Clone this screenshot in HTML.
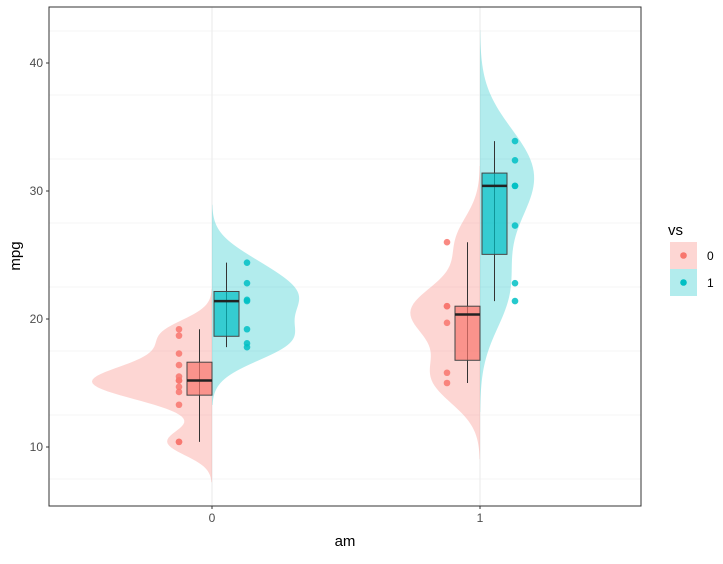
<!DOCTYPE html>
<html><head><meta charset="utf-8"><style>
body{margin:0;background:#fff;}
svg text{font-family:"Liberation Sans",sans-serif;}
</style></head><body>
<svg id="chart" width="723" height="559" xmlns="http://www.w3.org/2000/svg"></svg>
<script>
const categories = ["0", "1"];
const groups = ["0", "1"];
const mpgAm0Vs0 = [18.7,14.3,16.4,17.3,15.2,10.4,10.4,14.7,15.5,15.2,13.3,19.2];
const mpgAm0Vs1 = [21.4,18.1,24.4,22.8,19.2,17.8,21.5];
const mpgAm1Vs0 = [21,21,26,15.8,19.7,15];
const mpgAm1Vs1 = [22.8,32.4,30.4,33.9,27.3,30.4,21.4];
const yTicks = [10,20,30,40];
const seriesData = [[mpgAm0Vs0, mpgAm0Vs1],[mpgAm1Vs0, mpgAm1Vs1]];
const colors = ["#F8766D","#00BFC4"];

const svg = document.getElementById('chart');
const NS = "http://www.w3.org/2000/svg";
function mk(tag, attrs, parent){const e=document.createElementNS(NS,tag);for(const k in attrs)e.setAttribute(k,attrs[k]);(parent||svg).appendChild(e);return e;}
const P={l:49,r:641,t:7,b:506};
function yS(v){return 447-(v-10)*12.8;}
function xS(i){return 212+i*268;}

// gridlines
for(let v=7.5;v<=42.5;v+=5){
  const g=mk('line',{x1:P.l,x2:P.r,y1:yS(v),y2:yS(v),stroke:'#ebebeb','stroke-width':(v%10===0)?1.1:0.6});
  
}
for(let i=0;i<categories.length;i++){
  const g=mk('line',{x1:xS(i),x2:xS(i),y1:P.t,y2:P.b,stroke:'#ebebeb','stroke-width':1.1});
  
}

function sd(a){const m=a.reduce((s,v)=>s+v,0)/a.length;return Math.sqrt(a.reduce((s,v)=>s+(v-m)*(v-m),0)/(a.length-1));}
function quant(a,p){const s=[...a].sort((x,y)=>x-y);const h=(s.length-1)*p;const lo=Math.floor(h);return s[lo]+(h-lo)*((s[lo+1]??s[lo])-s[lo]);}
function bw(a){const q=quant(a,0.75)-quant(a,0.25);const lo=Math.min(sd(a),q/1.34);return 0.9*lo*Math.pow(a.length,-0.2);}
function dens(a,b,x){let s=0;for(const v of a){const z=(x-v)/b;s+=Math.exp(-0.5*z*z);}return s/(a.length*b*Math.sqrt(2*Math.PI));}

// compute densities
const dd=[];let maxD=0;
for(let i=0;i<2;i++)for(let j=0;j<2;j++){
  const a=seriesData[i][j];const b=bw(a);const lo=Math.min(...a)-3*b,hi=Math.max(...a)+3*b;
  const pts=[];for(let k=0;k<=100;k++){const x=lo+(hi-lo)*k/100;const d=dens(a,b,x);pts.push([x,d]);if(d>maxD)maxD=d;}
  dd.push({i,j,pts});
}
for(const o of dd){
  const c=xS(o.i),sign=o.j===0?-1:1;
  let d=`M${c},${yS(o.pts[0][0])}`;
  for(const p of o.pts)d+=` L${c+sign*p[1]/maxD*120},${yS(p[0])}`;
  d+=` L${c},${yS(o.pts[o.pts.length-1][0])} Z`;
  const e=mk('path',{d,fill:colors[o.j],'fill-opacity':0.3});
  
  
}
// boxes & points
for(let i=0;i<2;i++)for(let j=0;j<2;j++){
  const a=seriesData[i][j];const c=xS(i);
  const q1=quant(a,0.25),q2=quant(a,0.5),q3=quant(a,0.75),iqr=q3-q1;
  const wlo=Math.min(...a.filter(v=>v>=q1-1.5*iqr)),whi=Math.max(...a.filter(v=>v<=q3+1.5*iqr));
  const x0=j===0?c-25:c+2,x1=x0+25,xm=(x0+x1)/2;
  const w=mk('line',{x1:xm,x2:xm,y1:yS(whi),y2:yS(wlo),stroke:'#333','stroke-width':1});
  
  const r=mk('rect',{x:x0,y:yS(q3),width:25,height:yS(q1)-yS(q3),fill:colors[j],'fill-opacity':0.7,stroke:'#444','stroke-width':1});
  
  const m=mk('line',{x1:x0,x2:x1,y1:yS(q2),y2:yS(q2),stroke:'#222','stroke-width':2.5});
  
  const px=j===0?c-33:c+35;
  for(const v of a){
    const p=mk('circle',{cx:px,cy:yS(v),r:3.3,fill:colors[j],'fill-opacity':0.85});
    
  }
}
// panel border
const bd=mk('rect',{x:P.l,y:P.t,width:P.r-P.l,height:P.b-P.t,fill:'none',stroke:'#333','stroke-width':1});

// axes ticks
for(const v of yTicks){
  const t=mk('line',{x1:P.l-3,x2:P.l,y1:yS(v),y2:yS(v),stroke:'#333'});
  
  const l=mk('text',{x:P.l-6,y:yS(v)+4,'text-anchor':'end','font-size':12,fill:'#4d4d4d'});l.textContent=v;
  
}
categories.forEach((c,i)=>{
  const t=mk('line',{x1:xS(i),x2:xS(i),y1:P.b,y2:P.b+3,stroke:'#333'});
  
  const l=mk('text',{x:xS(i),y:P.b+16,'text-anchor':'middle','font-size':12,fill:'#4d4d4d'});l.textContent=c;
  
});
const xt=mk('text',{x:345,y:546,'text-anchor':'middle','font-size':15,fill:'#000'});xt.textContent='am';

const yt=mk('text',{x:20,y:256,'text-anchor':'middle','font-size':15,fill:'#000',transform:'rotate(-90 20 256)'});yt.textContent='mpg';

// legend
const lt=mk('text',{x:668,y:235,'font-size':15,fill:'#000'});lt.textContent='vs';

groups.forEach((g,j)=>{
  const y0=242+j*27;
  const k=mk('rect',{x:670,y:y0,width:27,height:27,fill:colors[j],'fill-opacity':0.3});
  
  const d=mk('circle',{cx:683.5,cy:y0+13.5,r:3.3,fill:colors[j]});
  
  const l=mk('text',{x:707,y:y0+18,'font-size':12,fill:'#000'});l.textContent=g;
  
});
</script>
</body></html>
